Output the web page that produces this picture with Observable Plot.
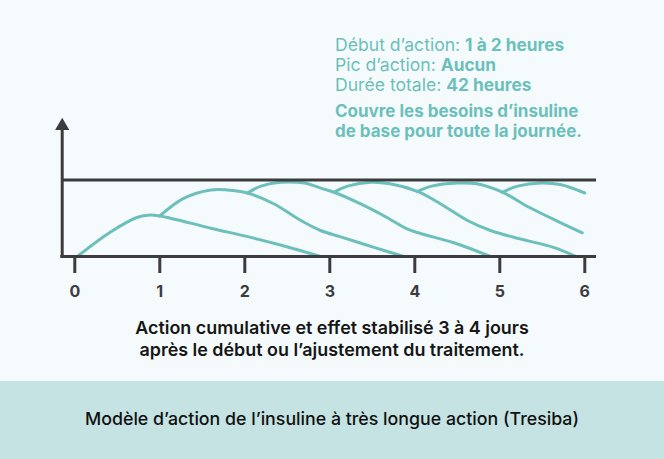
<!DOCTYPE html>
<html>
<head>
<meta charset="utf-8">
<script src="https://cdn.jsdelivr.net/npm/d3@7"></script>
<script src="https://cdn.jsdelivr.net/npm/@observablehq/plot@0.6"></script>
<style>
  html, body { margin: 0; padding: 0; background: #f5fbfc; }
  #wrap { position: relative; width: 664px; height: 459px; overflow: hidden; font-family: Inter, "Noto Sans", sans-serif; background: #f5fbfc; }
  #chart { position: absolute; left: 0; top: 0; }
  #info { position: absolute; left: 335px; top: 35px; color: #6cbfbb; font-size: 17.6px; line-height: 20px; white-space: nowrap; }
  #info b { font-weight: 700; font-size: 17.3px; }
  #info .cover { margin-top: 6px; font-weight: 700; font-size: 17px; }
  #note { position: absolute; left: 0; top: 317px; width: 664px; text-align: center; color: #161616; font-size: 17.9px; font-weight: 600; line-height: 22px; white-space: nowrap; }
  #footer { position: absolute; left: 0; top: 381px; width: 664px; height: 78px; background: #c5e3e3; display: flex; align-items: center; justify-content: center; color: #111; font-size: 17.8px; font-weight: 500; padding-bottom: 3px; box-sizing: border-box; white-space: nowrap; }
</style>
</head>
<body>
<div id="wrap">
  <div id="chart"></div>
  <div id="info"></div>
  <div id="note"></div>
  <div id="footer"></div>
</div>
<script>
// ---- data ----
const xTicks = [0, 1, 2, 3, 4, 5, 6];
// each array: [day, relative insulin action]
const doseDay0 = [[0.03,0],[0.42,0.32],[0.73,0.51],[0.86,0.54],[1.0,0.53],[1.6,0.37],[2.07,0.25],[2.42,0.15],[2.89,0]];
const doseDay1 = [[1.0,0.53],[1.28,0.76],[1.6,0.87],[1.79,0.87],[2.03,0.83],[2.34,0.69],[2.66,0.47],[2.89,0.34],[3.12,0.26],[3.52,0.12],[3.87,0]];
const doseDay2 = [[2.03,0.83],[2.19,0.92],[2.42,0.97],[2.70,0.96],[2.93,0.88],[3.05,0.84],[3.32,0.71],[3.64,0.53],[3.91,0.36],[4.07,0.30],[4.46,0.18],[4.89,0]];
const doseDay3 = [[3.05,0.84],[3.21,0.92],[3.48,0.97],[3.71,0.95],[4.03,0.85],[4.3,0.69],[4.62,0.47],[4.89,0.34],[5.24,0.23],[5.63,0.12],[5.9,0]];
const doseDay4 = [[4.03,0.85],[4.2,0.92],[4.5,0.96],[4.73,0.95],[5.03,0.84],[5.35,0.64],[5.7,0.45],[5.97,0.31]];
const doseDay5 = [[5.03,0.84],[5.21,0.92],[5.48,0.96],[5.71,0.94],[6.0,0.83]];
const steadyLevel = 1;

const infoLines = [
  ["Début d’action: ", "1 à 2 heures"],
  ["Pic d’action: ", "Aucun"],
  ["Durée totale: ", "42 heures"]
];
const coverText = ["Couvre les besoins d’insuline", "de base pour toute la journée."];
const noteText = ["Action cumulative et effet stabilisé 3 à 4 jours", "après le début ou l’ajustement du traitement."];
const footerText = "Modèle d’action de l’insuline à très longue action (Tresiba)";

// ---- build ----
const teal = "#6cbfbb";
const axisColor = "#3c3c3e";
const curves = [doseDay0, doseDay1, doseDay2, doseDay3, doseDay4, doseDay5];
const lineData = curves.flatMap((c, k) => c.map(([day, v]) => ({day, v, k})));

const chart = Plot.plot({
  width: 664,
  height: 459,
  marginTop: 179.5,
  marginBottom: 203,
  marginLeft: 74.3,
  marginRight: 79.7,
  x: {domain: [0, 6], axis: null},
  y: {domain: [0, 1], axis: null},
  style: {background: "transparent", fontFamily: "Inter, sans-serif", overflow: "visible"},
  marks: [
    Plot.line(lineData, {x: "day", y: "v", z: "k", curve: "catmull-rom", stroke: teal, strokeWidth: 3, strokeLinecap: "round", strokeLinejoin: "round"}),
    Plot.ruleY([steadyLevel], {stroke: axisColor, strokeWidth: 3, insetLeft: -12.6, insetRight: -11.7}),
    Plot.ruleY([0], {stroke: axisColor, strokeWidth: 3, insetLeft: -14, insetRight: -11.7}),
    Plot.ruleX([0], {dx: -12.6, stroke: axisColor, strokeWidth: 3, insetTop: -52, insetBottom: -1.5}),
    Plot.dot([0], {x: 0, y: steadyLevel, dx: -12.6, dy: -54, symbol: "triangle", r: 5.3, fill: axisColor, stroke: null}),
    Plot.ruleX(xTicks, {x: d => d, y1: 0, y2: 0, insetBottom: -17, stroke: axisColor, strokeWidth: 3}),
    Plot.text(xTicks, {x: d => d, y: 0, dy: 35, text: d => String(d), fontSize: 16, fontWeight: 700, fill: axisColor})
  ]
});
document.getElementById("chart").appendChild(chart);

const info = document.getElementById("info");
infoLines.forEach(([a, b]) => {
  const div = document.createElement("div");
  div.append(a);
  const bold = document.createElement("b");
  bold.textContent = b;
  div.appendChild(bold);
  info.appendChild(div);
});
const cover = document.createElement("div");
cover.className = "cover";
cover.innerHTML = coverText.map(t => `<div>${t}</div>`).join("");
info.appendChild(cover);

document.getElementById("note").innerHTML = noteText.map(t => `<div>${t}</div>`).join("");
document.getElementById("footer").textContent = footerText;
</script>
</body>
</html>
